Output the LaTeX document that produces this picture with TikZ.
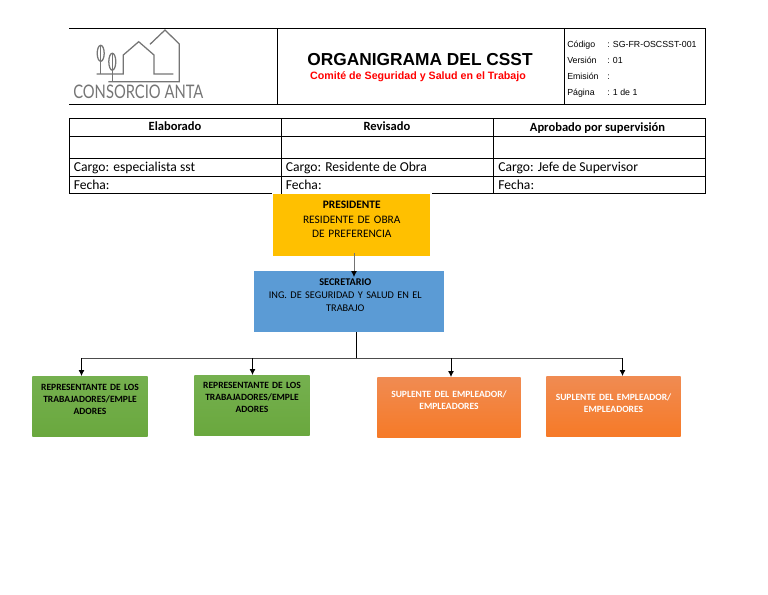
\documentclass[tikz,border=0pt]{standalone}
\usepackage{fontspec}
\usepackage{xcolor}
\setmainfont{Carlito}
\newfontfamily\headfont{Liberation Sans}
\newfontfamily\logofont{Lato}
\usetikzlibrary{arrows.meta}
\definecolor{logogray}{HTML}{757575}
\definecolor{presyellow}{HTML}{FFC000}
\definecolor{secblue}{HTML}{5B9BD5}
\definecolor{greentop}{HTML}{75B04F}
\definecolor{greenbottom}{HTML}{6AA83E}
\definecolor{orangetop}{HTML}{F08B52}
\definecolor{orangebottom}{HTML}{F67A27}
\tikzset{
    rule/.style={draw=black,line width=0.6pt},
    logoline/.style={logogray,line width=0.95pt},
    celltext/.style={anchor=base west,inner sep=0pt,font=\fontsize{10.2}{12}\selectfont},
    headtext/.style={anchor=base,inner sep=0pt,font=\fontsize{9.4}{12}\selectfont\bfseries},
    coderow/.style={anchor=base west,inner sep=0pt,font=\headfont\fontsize{6.6}{8}\selectfont},
    % width, space above first baseline, space below it (pt)
    orgbox/.style n args={3}{anchor=north west,inner sep=0pt,align=center,text width=#1pt,text height=#2pt,text depth=#3pt},
    greenbox/.style={shade,top color=greentop,bottom color=greenbottom,font=\fontsize{7.15}{9}\selectfont\bfseries},
    orangebox/.style={shade,top color=orangetop,bottom color=orangebottom,text=white,font=\fontsize{7.15}{9}\selectfont\bfseries},
    link/.style={line width=0.6pt,-{Latex[length=4.5pt,width=4.5pt,black]}},
}
\begin{document}
\begin{tikzpicture}[x=0.75pt,y=-0.75pt]
    \useasboundingbox (0,0) rectangle (768,594);
    % encabezado
    \draw[rule] (69,28) -- (705,28) -- (705,104.5) -- (69,104.5);
    \draw[rule] (277,28) -- (277,104.5);
    \draw[rule] (564,28) -- (564,104.5);
    % logo
    \draw[logoline] (150,44.3) -- (165,30) -- (179.3,44) -- (179.3,81.7) -- (108.3,81.7);
    \draw[logoline] (96.7,74) -- (123.3,74) -- (123.3,55) -- (138.7,41.7) -- (154,55) -- (154,74) -- (173.3,74);
    \draw[logoline] (100.7,53.3) ellipse (3.5 and 8);
    \draw[logoline] (100.7,46) -- (100.7,74);
    \draw[logoline] (112.3,61.7) ellipse (3.5 and 8.5);
    \draw[logoline] (112.3,54) -- (112.3,81.7);
    \node[anchor=base west,inner sep=0pt,text=logogray,font=\logofont\fontsize{14}{16}\selectfont] (logotext) at (73,98.5) {\scalebox{0.79}[1]{CONSORCIO ANTA}};
    \node[anchor=base,inner sep=0pt,font=\headfont\fontsize{13}{16}\selectfont\bfseries] (title) at (420,65.5) {ORGANIGRAMA DEL CSST};
    \node[anchor=base,inner sep=0pt,text=red,font=\headfont\fontsize{8}{10}\selectfont\bfseries] (subtitle) at (418,79) {Comité de Seguridad y Salud en el Trabajo};
    \node[coderow] (codigo) at (567,47.5) {Código};
    \node[coderow] (codigoval) at (607,47.5) {: SG-FR-OSCSST-001};
    \node[coderow] (version) at (567,63.5) {Versión};
    \node[coderow] (versionval) at (607,63.5) {: 01};
    \node[coderow] (emision) at (567,79) {Emisión};
    \node[coderow] (emisionval) at (607,79) {:};
    \node[coderow] (pagina) at (567,95) {Página};
    \node[coderow] (paginaval) at (607,95) {: 1 de 1};
    % tabla de firmas
    \foreach \y in {118,136,158,176} {
        \draw[rule] (69,\y) -- (705,\y);
    }
    \draw[rule] (69,193.5) -- (272,193.5);
    \draw[rule] (432,193.5) -- (705,193.5);
    \foreach \x in {69,281,493,705} {
        \draw[rule] (\x,118) -- (\x,193.5);
    }
    \node[headtext] (elaborado) at (175,130.5) {Elaborado};
    \node[headtext] (revisado) at (387,130.5) {Revisado};
    \node[headtext] (aprobado) at (597.5,131.5) {Aprobado por supervisión};
    \node[celltext] (cargoa) at (73.5,171.5) {Cargo: especialista sst};
    \node[celltext] (cargob) at (285.5,171.5) {Cargo: Residente de Obra};
    \node[celltext] (cargoc) at (498,171.5) {Cargo: Jefe de Supervisor};
    \node[celltext] (fechaa) at (73.5,189.5) {Fecha:};
    \node[celltext] (fechab) at (285.5,189.5) {Fecha:};
    \node[celltext] (fechac) at (498,189.5) {Fecha:};
    % organigrama
    \node[orgbox={117.75}{11}{35.5},fill=presyellow,font=\fontsize{8.55}{10.7}\selectfont] (presidente) at (273,194) {\textbf{PRESIDENTE}\\RESIDENTE DE OBRA\\DE PREFERENCIA};
    \node[orgbox={142.5}{10.8}{34.9},fill=secblue,font=\fontsize{7.7}{9.6}\selectfont] (secretario) at (254,271) {\textbf{SECRETARIO}\kern6pt\\ING. DE SEGURIDAD Y SALUD EN EL\kern6pt\\TRABAJO\kern6pt};
    \node[orgbox={86.6}{10.75}{34.25},greenbox] (repa) at (32,376) {REPRESENTANTE DE LOS\\TRABAJADORES/EMPLE\\ADORES};
    \node[orgbox={86.6}{10}{35},greenbox] (repb) at (194,375) {REPRESENTANTE DE LOS\\TRABAJADORES/EMPLE\\ADORES};
    \node[orgbox={107.6}{15.2}{29.8},orangebox] (supa) at (377,377) {SUPLENTE DEL EMPLEADOR/\\EMPLEADORES};
    \node[orgbox={100.85}{18.5}{26.5},orangebox] (supb) at (546,376) {SUPLENTE DEL EMPLEADOR/\\EMPLEADORES};
    % conectores
    \coordinate (presout) at (354,253);
    \coordinate (secin) at (354,277);
    \coordinate (secout) at (356,332);
    \coordinate (bus) at (356,358);
    \coordinate (busleft) at (81.5,358);
    \coordinate (busright) at (622.5,358);
    \draw[link,draw=black!55] (presout) -- (secin);
    \draw[line width=0.7pt] (secout) -- (bus);
    \draw[line width=0.6pt,black!70] (busleft) -- (busright);
    \draw[link] (busleft) -- (repa.north -| busleft);
    \draw[link] (252.5,358) -- (repb.north -| 252.5,0);
    \draw[link] (451,358) -- (supa.north -| 451,0);
    \draw[link] (busright) -- (supb.north -| busright);
\end{tikzpicture}
\end{document}
